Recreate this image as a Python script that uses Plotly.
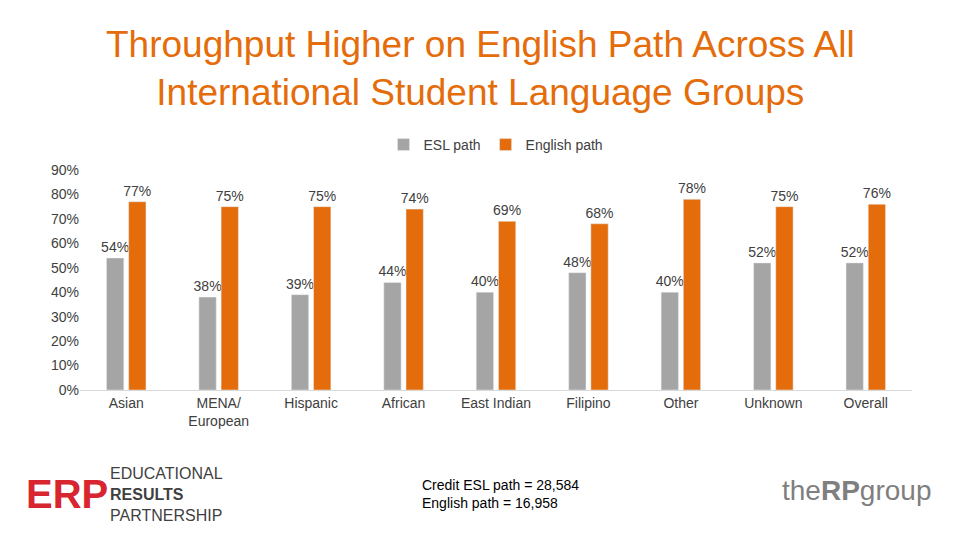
import plotly.graph_objects as go

categories = ["Asian", "MENA/<br>European", "Hispanic", "African", "East Indian", "Filipino", "Other", "Unknown", "Overall"]
esl = [54, 38, 39, 44, 40, 48, 40, 52, 52]
eng = [77, 75, 75, 74, 69, 68, 78, 75, 76]
yticks = [0, 10, 20, 30, 40, 50, 60, 70, 80, 90]

GREY = "#A5A5A5"
ORANGE = "#E46C0A"
TXT = "#404040"

OFF = 8  # page body margin
L, R, T, B = 72, 56, 162, 158
PW, PH = 960 - L - R, 540 - T - B
def px(x): return (x - OFF - L) / PW
def py(y): return (540 - B - (y - OFF)) / PH

fig = go.Figure()
fig.add_bar(x=categories, y=esl, name="ESL path", marker_color=GREY,
            text=[f"{v}%" for v in esl], textposition="outside", constraintext="none",
            textfont=dict(size=14, color=TXT), cliponaxis=False)
fig.add_bar(x=categories, y=eng, name="English path", marker_color=ORANGE,
            text=[f"{v}%" for v in eng], textposition="outside", constraintext="none",
            textfont=dict(size=14, color=TXT), cliponaxis=False)

fig.update_layout(
    width=960, height=540, paper_bgcolor="white", plot_bgcolor="white",
    font=dict(family="Liberation Sans, Arial", color=TXT, size=14),
    barmode="group", bargap=0.52, bargroupgap=0.22,
    margin=dict(l=L, r=R, t=T, b=B, autoexpand=False),
    legend=dict(orientation="h", x=0.5, xanchor="center", y=py(145), yanchor="middle",
                font=dict(size=14, color=TXT), itemwidth=30),
    xaxis=dict(showline=True, linecolor="#D9D9D9", tickfont=dict(size=14, color=TXT), ticks=""),
    yaxis=dict(range=[0, 90], tickvals=yticks, ticktext=[f"{v}%" for v in yticks],
               showgrid=False, zeroline=False, tickfont=dict(size=14, color=TXT)),
)
fig.add_annotation(text="Throughput Higher on English Path Across All<br>International Student Language Groups",
                   xref="paper", yref="paper", x=px(480), y=py(68), xanchor="center", yanchor="middle",
                   showarrow=False, font=dict(size=37, color=ORANGE))
fig.add_annotation(text="Credit ESL path = 28,584<br>English path = 16,958", xref="paper", yref="paper",
                   x=px(420), y=py(494), xanchor="left", yanchor="middle", showarrow=False, align="left",
                   font=dict(size=14, color="#000000"))
fig.add_annotation(text="<b>ERP</b>", xref="paper", yref="paper", x=px(24), y=py(494),
                   xanchor="left", yanchor="middle", showarrow=False,
                   font=dict(size=40, color="#D7262F"))
fig.add_annotation(text="EDUCATIONAL<br><b>RESULTS</b><br>PARTNERSHIP", xref="paper", yref="paper",
                   x=px(108), y=py(494), xanchor="left", yanchor="middle", showarrow=False, align="left",
                   font=dict(size=16, color="#3F3F3F"))
fig.add_annotation(text="the<b>RP</b>group", xref="paper", yref="paper", x=px(780), y=py(490),
                   xanchor="left", yanchor="middle", showarrow=False,
                   font=dict(size=28, color="#7F7F7F"))
fig.write_html("out.html")
